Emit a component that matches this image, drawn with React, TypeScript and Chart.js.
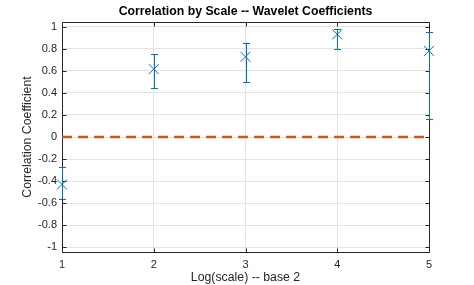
import { useEffect, useRef } from 'react';
import { Chart, registerables } from 'chart.js';

Chart.register(...registerables);

// ---- data ----
const logScales = [1, 2, 3, 4, 5];
const corrValues = [-0.43, 0.615, 0.727, 0.93, 0.78];
const corrLower = [-0.56, 0.44, 0.494, 0.795, 0.16];
const corrUpper = [-0.276, 0.75, 0.855, 0.976, 0.955];
const refLineX = [1, 5];
const refLineY = [0, 0];
const yTickValues = [-1, -0.8, -0.6, -0.4, -0.2, 0, 0.2, 0.4, 0.6, 0.8, 1];
const xTickValues = [1, 2, 3, 4, 5];

const FONT = "'Liberation Sans', Arial, Helvetica, sans-serif";
const AXIS_COLOR = '#262626';
const BLUE = '#0072BD';
const ORANGE = '#D95319';

const frameAndTicks = {
  id: 'frameAndTicks',
  beforeDatasetsDraw(chart: any) {
    const { ctx, chartArea, scales } = chart;
    const { left, right, top, bottom } = chartArea;
    ctx.save();
    ctx.strokeStyle = AXIS_COLOR;
    ctx.lineWidth = 1;
    const L = Math.round(left) + 0.5;
    const R = Math.round(right) + 0.5;
    const T = Math.round(top) + 0.5;
    const B = Math.round(bottom) + 0.5;
    ctx.beginPath();
    ctx.rect(L, T, R - L, B - T);
    ctx.stroke();
    const tl = 4;
    ctx.beginPath();
    scales.y.ticks.forEach((t: any) => {
      const py = Math.round(scales.y.getPixelForValue(t.value)) + 0.5;
      ctx.moveTo(L, py);
      ctx.lineTo(L + tl, py);
      ctx.moveTo(R, py);
      ctx.lineTo(R - tl, py);
    });
    scales.x.ticks.forEach((t: any) => {
      const px = Math.round(scales.x.getPixelForValue(t.value)) + 0.5;
      ctx.moveTo(px, B);
      ctx.lineTo(px, B - tl);
      ctx.moveTo(px, T);
      ctx.lineTo(px, T + tl);
    });
    ctx.stroke();
    ctx.restore();
  },
};

const errorBars = {
  id: 'errorBars',
  afterDatasetsDraw(chart: any) {
    const { ctx, scales } = chart;
    ctx.save();
    ctx.strokeStyle = BLUE;
    ctx.lineWidth = 1;
    ctx.beginPath();
    logScales.forEach((xv, i) => {
      const px = Math.round(scales.x.getPixelForValue(xv)) + 0.5;
      const pl = scales.y.getPixelForValue(corrLower[i]);
      const pu = scales.y.getPixelForValue(corrUpper[i]);
      const cap = 3.5;
      ctx.moveTo(px, pl);
      ctx.lineTo(px, pu);
      ctx.moveTo(px - cap, Math.round(pl) + 0.5);
      ctx.lineTo(px + cap, Math.round(pl) + 0.5);
      ctx.moveTo(px - cap, Math.round(pu) + 0.5);
      ctx.lineTo(px + cap, Math.round(pu) + 0.5);
    });
    ctx.stroke();
    ctx.restore();
  },
};

export default function App() {
  const canvasRef = useRef<HTMLCanvasElement | null>(null);

  useEffect(() => {
    if (!canvasRef.current) return;
    const chart = new Chart(canvasRef.current, {
      type: 'scatter',
      data: {
        datasets: [
          {
            label: 'zero',
            data: refLineX.map((x, i) => ({ x, y: refLineY[i] })),
            showLine: true,
            borderColor: ORANGE,
            borderWidth: 2.5,
            borderDash: [10, 6],
            pointRadius: 0,
            clip: false as any,
            order: 1,
          },
          {
            label: 'corr',
            data: logScales.map((x, i) => ({ x, y: corrValues[i] })),
            showLine: false,
            pointStyle: 'crossRot',
            pointRadius: 7,
            borderColor: BLUE,
            backgroundColor: BLUE,
            pointBorderWidth: 1,
            clip: false as any,
            order: 0,
          },
        ],
      },
      options: {
        animation: false,
        responsive: false,
        maintainAspectRatio: false,
        events: [],
        layout: { padding: { left: 0, right: 45, top: 0, bottom: 0 } },
        plugins: {
          legend: { display: false },
          tooltip: { enabled: false },
          title: {
            display: true,
            fullSize: false,
            text: 'Correlation by Scale -- Wavelet Coefficients',
            color: '#000',
            font: { family: FONT, size: 12.3, weight: 'bold', lineHeight: 1.2 },
            padding: { top: 4.5, bottom: 2.74 },
          },
        },
        scales: {
          x: {
            type: 'linear',
            min: 1,
            max: 5,
            afterFit(scale: any) {
              scale.height = 33;
            },
            afterBuildTicks(scale: any) {
              scale.ticks = xTickValues.map((v) => ({ value: v }));
            },
            grid: { color: '#e3e3e3', drawTicks: false },
            border: { display: false },
            ticks: {
              color: AXIS_COLOR,
              font: { family: FONT, size: 11 },
              padding: 6,
              callback: (v: any) => String(v),
            },
            title: {
              display: true,
              text: 'Log(scale) -- base 2',
              color: AXIS_COLOR,
              font: { family: FONT, size: 12.3, lineHeight: 1.2 },
              padding: { top: 0, bottom: 0 },
            },
          },
          y: {
            type: 'linear',
            min: -1.042,
            max: 1.042,
            afterFit(scale: any) {
              scale.width = 62;
            },
            afterBuildTicks(scale: any) {
              scale.ticks = yTickValues.map((v) => ({ value: v }));
            },
            grid: { color: '#e3e3e3', drawTicks: false },
            border: { display: false },
            ticks: {
              color: AXIS_COLOR,
              font: { family: FONT, size: 11 },
              padding: 5,
              callback: (v: any) => String(Number(Number(v).toFixed(1))),
            },
            title: {
              display: true,
              text: 'Correlation Coefficient',
              color: AXIS_COLOR,
              font: { family: FONT, size: 12.3, lineHeight: 1.2 },
              padding: { top: 20, bottom: 0 },
            },
          },
        },
      },
      plugins: [frameAndTicks, errorBars],
    });
    return () => chart.destroy();
  }, []);

  return (
    <div style={{ position: 'fixed', left: 0, top: 0, width: 474, height: 285, background: '#fff' }}>
      <canvas ref={canvasRef} width={474} height={285} style={{ width: 474, height: 285, display: 'block' }} />
    </div>
  );
}
